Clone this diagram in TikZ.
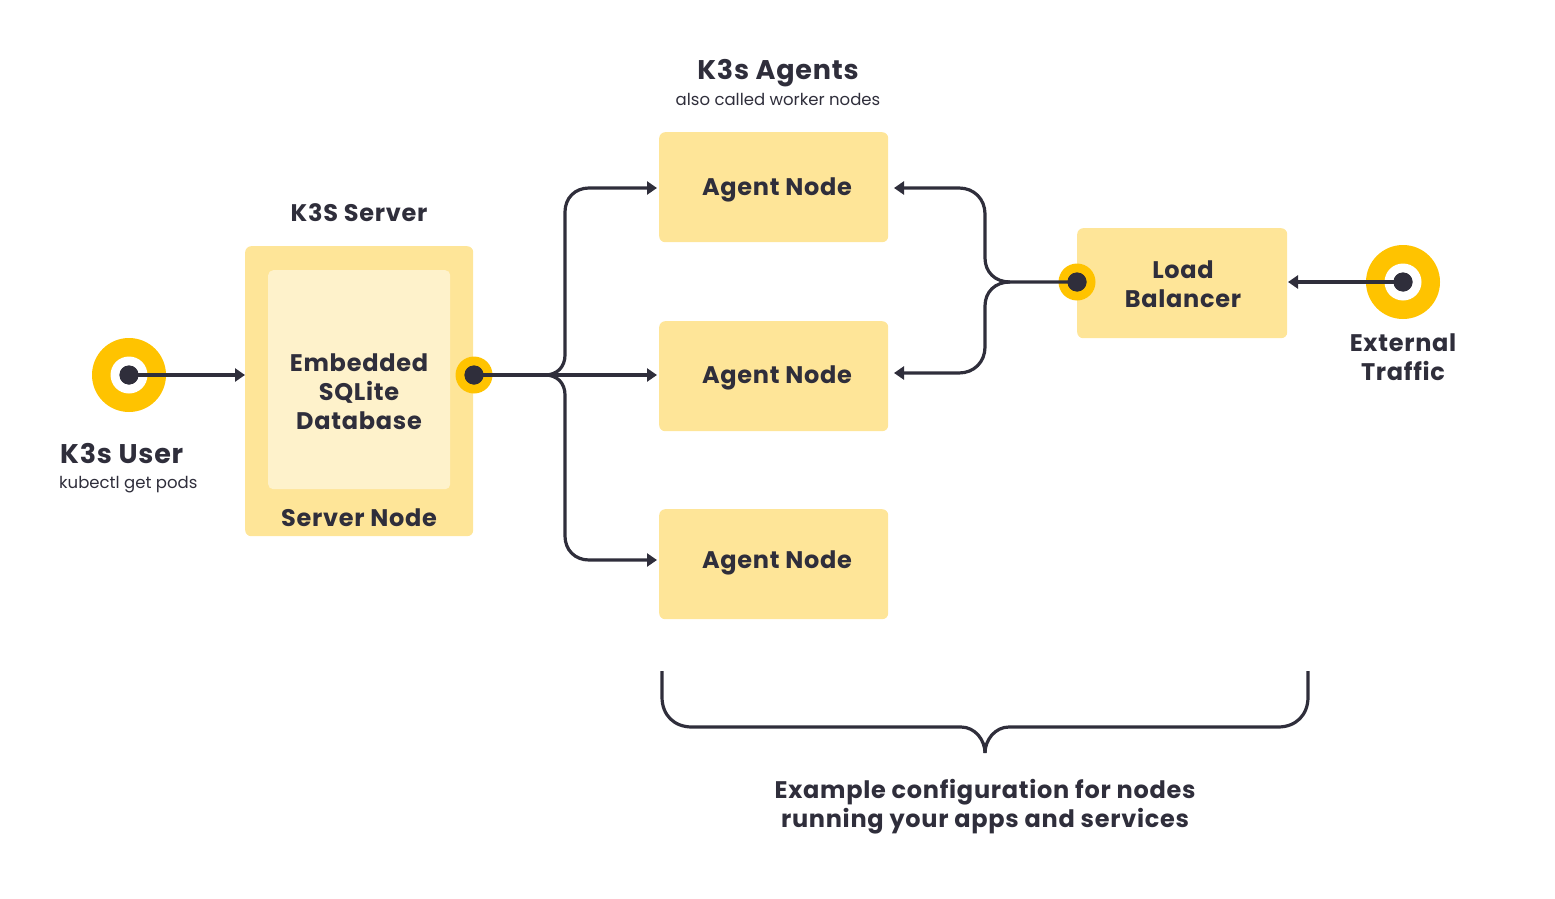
\documentclass[tikz,border=0pt]{standalone}
\usepackage{fontspec}
\setmainfont{Poppins}
\newfontfamily\spaced[LetterSpace=3]{Poppins}
\usetikzlibrary{arrows.meta}
\definecolor{ink}{HTML}{2F2E3B}
\definecolor{boxy}{HTML}{FEE598}
\definecolor{innery}{HTML}{FEF2CB}
\definecolor{ringy}{HTML}{FFC300}
\tikzset{
  x=1pt,y=-1pt,
  box/.style={fill=boxy,rounded corners=6pt,inner sep=0pt,anchor=north west},
  innerbox/.style={fill=innery,rounded corners=5pt,inner sep=0pt,anchor=north west},
  lab/.style={text=ink,font=\spaced\fontsize{24}{29}\selectfont\bfseries,align=center,inner sep=0pt},
  biglab/.style={text=ink,font=\spaced\fontsize{27}{32}\selectfont\bfseries,align=center,inner sep=0pt},
  sub/.style={text=ink,font=\fontsize{16.5}{20}\selectfont,align=center,inner sep=0pt},
  wire/.style={draw=ink,line width=3.2pt},
  arrowwire/.style={wire,-{Triangle[length=10pt,width=13pt]}},
  ringo/.style={circle,fill=ringy,minimum size=74pt,inner sep=0pt},
  ringw/.style={circle,fill=white,minimum size=37pt,inner sep=0pt},
  porto/.style={circle,fill=ringy,minimum size=37pt,inner sep=0pt},
  dot/.style={circle,fill=ink,minimum size=19pt,inner sep=0pt},
}
\begin{document}
\begin{tikzpicture}
\useasboundingbox (0,0) rectangle (1555,899);
% boxes
\node[box,minimum width=228pt,minimum height=290pt] (server) at (245,246) {};
\node[innerbox,minimum width=182pt,minimum height=219pt] (db) at (268,270) {};
\node[box,minimum width=229pt,minimum height=110pt] (a1) at (659,132) {};
\node[box,minimum width=229pt,minimum height=110pt] (a2) at (659,321) {};
\node[box,minimum width=229pt,minimum height=110pt] (a3) at (659,509) {};
\node[box,minimum width=210pt,minimum height=110pt] (lb) at (1077,228) {};
% rings
\node[ringo] (userO) at (129,375) {};
\node[ringw] (userW) at (129,375) {};
\node[ringo] (extO) at (1403,282) {};
\node[ringw] (extW) at (1403,282) {};
\node[porto] (srvP) at (474,375) {};
\node[porto] (lbP) at (1077,282) {};
% free ends
\coordinate (t1) at (657,188);
\coordinate (t2) at (657,375);
\coordinate (t3) at (657,560);
\coordinate (l1) at (894,188);
\coordinate (l2) at (894,373);
\coordinate (userT) at (245,375);
\coordinate (extT) at (1288,282);
\coordinate (brL) at (662,671);
\coordinate (brR) at (1308,671);
\coordinate (brM) at (985,753);
% connectors
\node[dot] (userD) at (129,375) {};
\node[dot] (extD) at (1403,282) {};
\node[dot] (srvD) at (474,375) {};
\node[dot] (lbD) at (1077,282) {};
\draw[arrowwire] (userD.center) -- (userT);
\draw[arrowwire] (extD.center) -- (extT);
\draw[arrowwire] (srvD.center) -- (t2);
\draw[arrowwire] (srvD.center) -- (545,375) .. controls (557,375) and (565,367) .. (565,355)
  -- (565,212) .. controls (565,198) and (575,188) .. (589,188) -- (t1);
\draw[arrowwire] (545,375) .. controls (557,375) and (565,383) .. (565,395)
  -- (565,536) .. controls (565,550) and (575,560) .. (589,560) -- (t3);
\draw[arrowwire] (lbD.center) -- (1010,282) .. controls (995,282) and (985,272) .. (985,258)
  -- (985,214) .. controls (985,199) and (974,188) .. (959,188) -- (l1);
\draw[arrowwire] (1010,282) .. controls (995,282) and (985,292) .. (985,306)
  -- (985,347) .. controls (985,362) and (974,373) .. (959,373) -- (l2);
\draw[wire] (brL) -- (662,697) .. controls (662,715) and (674,727) .. (692,727)
  -- (961,727) .. controls (975,727) and (985,740) .. (brM);
\draw[wire] (brR) -- (1308,697) .. controls (1308,715) and (1296,727) .. (1278,727)
  -- (1009,727) .. controls (995,727) and (985,740) .. (brM);
% dots above the wires
\node[dot] at (userD) {};
\node[dot] at (extD) {};
\node[dot] at (srvD) {};
\node[dot] at (lbD) {};
% labels
\node[biglab] (tAgents) at (778,73) {K3s Agents};
\node[sub] (tAlso) at (778,99) {also called worker nodes};
\node[lab] (tServer) at (359,213) {K3S Server};
\node[lab] (tDb) at (359,392) {Embedded\\SQLite\\Database};
\node[lab] (tSrvN) at (359,518) {Server Node};
\node[lab] (tA1) at (777,190) {Agent Node};
\node[lab] (tA2) at (777,378) {Agent Node};
\node[lab] (tA3) at (777,563) {Agent Node};
\node[lab] (tLb) at (1183,284) {Load\\Balancer};
\node[lab] (tExt) at (1403,357) {External\\Traffic};
\node[biglab,anchor=west] (tUser) at (60,454) {K3s User};
\node[sub,anchor=west] (tKub) at (59,485) {kubectl get pods};
\node[lab] (tEx) at (985,807) {Example configuration for nodes\\running your apps and services};
\end{tikzpicture}
\end{document}
